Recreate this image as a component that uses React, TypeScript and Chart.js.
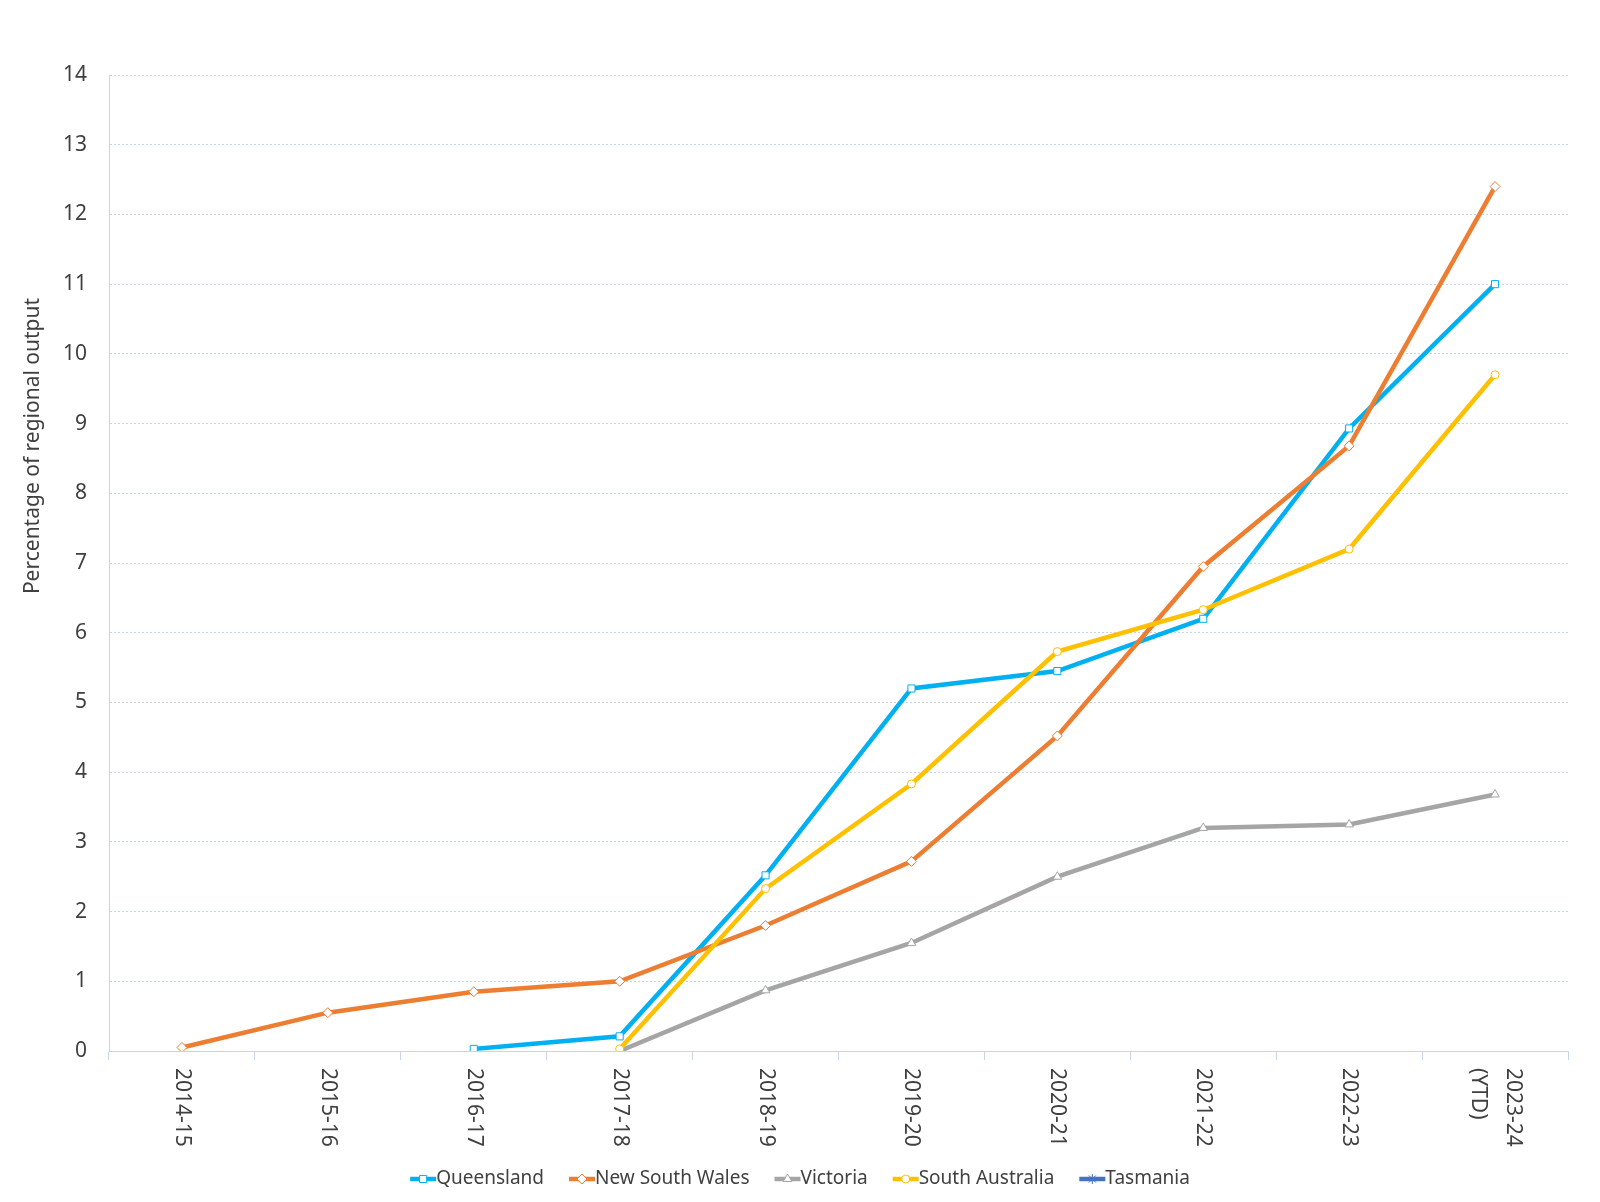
import { useEffect, useRef } from "react";
import { Chart, registerables, Plugin } from "chart.js";
import { drawPoint } from "chart.js/helpers";

Chart.register(...registerables);

const categories: string[][] = [
  ["2014-15"],
  ["2015-16"],
  ["2016-17"],
  ["2017-18"],
  ["2018-19"],
  ["2019-20"],
  ["2020-21"],
  ["2021-22"],
  ["2022-23"],
  ["2023-24", "(YTD)"],
];

const queensland = [null, null, 0.03, 0.21, 2.52, 5.2, 5.45, 6.2, 8.93, 11.0];
const newSouthWales = [0.05, 0.55, 0.85, 1.0, 1.8, 2.72, 4.52, 6.95, 8.68, 12.4];
const victoria = [null, null, null, 0.0, 0.87, 1.55, 2.5, 3.2, 3.25, 3.68];
const southAustralia = [null, null, null, 0.03, 2.33, 3.83, 5.73, 6.33, 7.2, 9.7];
const tasmania: (number | null)[] = [null, null, null, null, null, null, null, null, null, null];

const yTicks = [0, 1, 2, 3, 4, 5, 6, 7, 8, 9, 10, 11, 12, 13, 14];
const yTitle = "Percentage of regional output";

const FONT = '"Noto Sans", "Open Sans", sans-serif';
const TEXT = "#404040";
const AXIS = "#c5d6ec";

const series = [
  { label: "Queensland", data: queensland, color: "#00b0f0", style: "rect", radius: 5 },
  { label: "New South Wales", data: newSouthWales, color: "#ed7d31", style: "rectRot", radius: 5 },
  { label: "Victoria", data: victoria, color: "#a5a5a5", style: "triangle", radius: 5 },
  { label: "South Australia", data: southAustralia, color: "#ffc000", style: "circle", radius: 4 },
  { label: "Tasmania", data: tasmania, color: "#4472c4", style: "star", radius: 5 },
];

// x labels (rotated clockwise), y title and legend drawn by hand
const extras: Plugin<"line"> = {
  id: "extras",
  afterDraw(chart) {
    const ctx = chart.ctx;
    const xs = chart.scales.x;
    const area = chart.chartArea;
    ctx.save();
    ctx.fillStyle = TEXT;
    ctx.font = `21px ${FONT}`;
    categories.forEach((lines, i) => {
      const px = xs.getPixelForValue(i);
      ctx.save();
      ctx.translate(px, area.bottom + 17);
      ctx.rotate(Math.PI / 2);
      ctx.textAlign = "left";
      ctx.textBaseline = "middle";
      lines.forEach((ln, j) => {
        ctx.fillText(ln, 0, (j - (lines.length - 1) / 2) * 35);
      });
      ctx.restore();
    });

    ctx.save();
    ctx.translate(33, 446);
    ctx.rotate(-Math.PI / 2);
    ctx.textAlign = "center";
    ctx.textBaseline = "middle";
    ctx.fillText(yTitle, 0, 0);
    ctx.restore();

    // legend
    ctx.font = `19px ${FONT}`;
    const lineW = 26;
    const gap = 25;
    const widths = series.map((s) => lineW + ctx.measureText(s.label).width);
    const total = widths.reduce((a, b) => a + b, 0) + gap * (series.length - 1);
    let x = chart.width / 2 - total / 2;
    const y = 1179;
    series.forEach((s, i) => {
      ctx.strokeStyle = s.color;
      ctx.lineWidth = 4.5;
      ctx.beginPath();
      ctx.moveTo(x, y);
      ctx.lineTo(x + lineW, y);
      ctx.stroke();
      ctx.fillStyle = "#ffffff";
      ctx.lineWidth = 1;
      drawPoint(ctx, { pointStyle: s.style as any, radius: s.radius, rotation: 0, borderWidth: 1 }, x + lineW / 2, y);
      ctx.fillStyle = TEXT;
      ctx.textAlign = "left";
      ctx.textBaseline = "middle";
      ctx.fillText(s.label, x + lineW, y);
      x += widths[i] + gap;
    });
    ctx.restore();
  },
};

export default function App() {
  const canvasRef = useRef<HTMLCanvasElement | null>(null);
  const chartRef = useRef<Chart | null>(null);

  useEffect(() => {
    document.body.style.margin = "0";
    if (!canvasRef.current) return;
    if (chartRef.current) chartRef.current.destroy();

    chartRef.current = new Chart(canvasRef.current, {
      type: "line",
      data: {
        labels: categories.map((c) => c.join(" ")),
        datasets: series.map((s, i) => ({
          label: s.label,
          data: s.data,
          borderColor: s.color,
          backgroundColor: "#ffffff",
          borderWidth: 4.5,
          pointStyle: s.style as any,
          pointRadius: s.radius,
          pointBorderWidth: 1,
          pointBorderColor: s.color,
          pointBackgroundColor: "#ffffff",
          tension: 0,
          spanGaps: false,
          order: series.length - i,
        })),
      },
      options: {
        responsive: false,
        animation: false,
        layout: { padding: { left: 0, top: 75, right: 32, bottom: 0 } },
        plugins: {
          legend: { display: false },
          tooltip: { enabled: false },
        },
        scales: {
          x: {
            offset: true,
            ticks: { display: false },
            grid: {
              offset: true,
              drawOnChartArea: false,
              drawTicks: true,
              tickLength: 9,
              color: AXIS,
              lineWidth: 1,
            },
            border: { display: true, color: AXIS, width: 1 },
            afterFit: (s: any) => {
              s.height = 151;
            },
          },
          y: {
            min: 0,
            max: 14,
            afterBuildTicks: (s: any) => {
              s.ticks = yTicks.map((v) => ({ value: v }));
            },
            ticks: {
              color: TEXT,
              font: { family: FONT, size: 21 },
              padding: 22,
            },
            grid: {
              drawTicks: false,
              color: AXIS,
              lineWidth: 1,
            },
            border: { display: true, color: AXIS, width: 1, dash: [2, 2] },
            afterFit: (s: any) => {
              s.width = 109;
            },
          },
        },
      },
      plugins: [extras],
    });

    return () => {
      if (chartRef.current) {
        chartRef.current.destroy();
        chartRef.current = null;
      }
    };
  }, []);

  return (
    <div style={{ width: 1600, height: 1202, background: "#ffffff" }}>
      <canvas ref={canvasRef} width={1600} height={1202} />
    </div>
  );
}
